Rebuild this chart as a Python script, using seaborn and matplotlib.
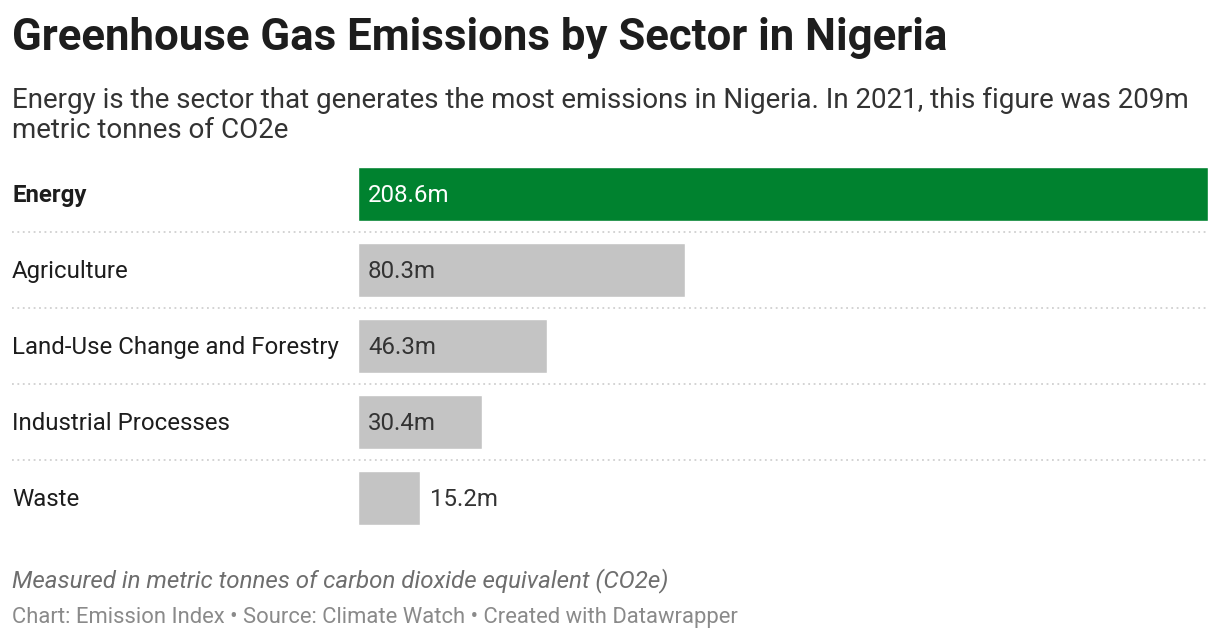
import pandas as pd
import matplotlib.pyplot as plt
import matplotlib.transforms as mtransforms
import seaborn as sns

sectors = ['Energy', 'Agriculture', 'Land-Use Change and Forestry', 'Industrial Processes', 'Waste']
emissions = [208.6, 80.3, 46.3, 30.4, 15.2]  # millions of tonnes CO2e
bar_colors = ['#00822f', '#c4c4c4', '#c4c4c4', '#c4c4c4', '#c4c4c4']

df = pd.DataFrame({'Sector': sectors, 'Emissions': emissions})

sns.set_theme(style='white')
plt.rcParams['font.family'] = ['Roboto', 'DejaVu Sans']

W, H = 1220, 640
fig = plt.figure(figsize=(W / 100, H / 100), dpi=100)
fig.patch.set_facecolor('white')

# axes in pixel terms: bars start at x=358, energy ends at 1208, rows 156..536
ax = fig.add_axes([358 / W, 1 - 536 / H, 850 / W, 380 / H])
sns.barplot(data=df, x='Emissions', y='Sector', hue='Sector', palette=bar_colors,
            legend=False, width=0.7, orient='h', ax=ax, saturation=1)
ax.set_xlim(0, max(emissions))
ax.set_ylim(len(sectors) - 0.5, -0.5)
ax.axis('off')

# value labels (inside the bar, or just after it when the bar is too short)
for i, v in enumerate(emissions):
    label = f'{v}m'
    bar_px = v / max(emissions) * 850
    if bar_px > 90:
        col = 'white' if i == 0 else '#333333'
        ax.annotate(label, (0, i), xytext=(10, -1), textcoords='offset pixels',
                    va='center', ha='left', fontsize=17.3, color=col)
    else:
        ax.annotate(label, (v, i), xytext=(10, -1), textcoords='offset pixels',
                    va='center', ha='left', fontsize=17.3, color='#333333')

# category labels and dotted separators
blend = mtransforms.blended_transform_factory(fig.transFigure, ax.transData)
for i, s in enumerate(sectors):
    ax.text(12 / W, i + 0.02, s, transform=blend, va='center', ha='left', fontsize=17.3,
            color='#1d1d1d', fontweight='bold' if i == 0 else 'normal')
for i in range(len(sectors) - 1):
    ax.plot([12 / W, 1208 / W], [i + 0.5, i + 0.5], transform=blend, color='#d0d0d0',
            linestyle=(0, (1, 2)), linewidth=1.3, clip_on=False)

# titles and footer
fig.text(12 / W, 1 - 38 / H, 'Greenhouse Gas Emissions by Sector in Nigeria',
         fontsize=31.5, fontweight='bold', color='#1d1d1d', va='center', ha='left')
fig.text(12 / W, 1 - 100 / H,
         'Energy is the sector that generates the most emissions in Nigeria. In 2021, this figure was 209m',
         fontsize=20, color='#333333', va='center', ha='left')
fig.text(12 / W, 1 - 131 / H, 'metric tonnes of CO2e',
         fontsize=20, color='#333333', va='center', ha='left')
fig.text(12 / W, 1 - 581 / H, 'Measured in metric tonnes of carbon dioxide equivalent (CO2e)',
         fontsize=17.4, style='italic', color='#6e6e6e', va='center', ha='left')
fig.text(12 / W, 1 - 617 / H,
         'Chart: Emission Index \u2022 Source: Climate Watch \u2022 Created with Datawrapper',
         fontsize=15.85, color='#8a8a8a', va='center', ha='left')

fig.savefig('out.png', dpi=100, facecolor='white')
plt.close(fig)
